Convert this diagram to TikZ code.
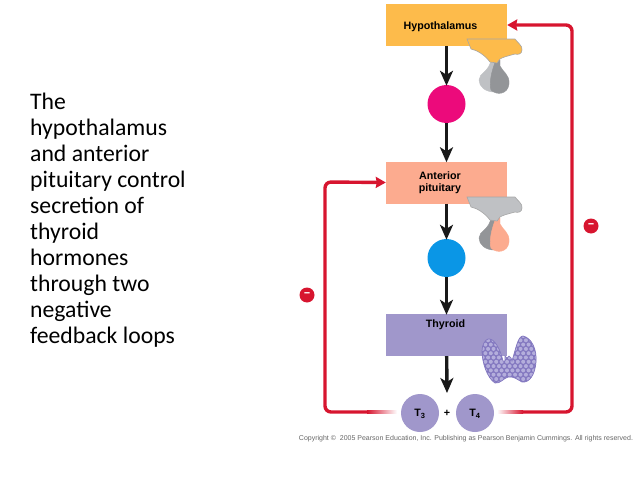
\documentclass[tikz,border=0pt]{standalone}
\usepackage{fontspec}
\setmainfont{Carlito}
\newfontfamily\labelfont{Liberation Sans}
\usetikzlibrary{arrows.meta}
\definecolor{hypocol}{HTML}{FDBB4B}
\definecolor{antcol}{HTML}{FCAB8F}
\definecolor{thycol}{HTML}{A097CB}
\definecolor{pinkcol}{HTML}{EC0A7B}
\definecolor{bluecol}{HTML}{0A96E6}
\definecolor{redcol}{HTML}{D7152F}
\definecolor{lightgland}{HTML}{BFC1C4}
\definecolor{darkgland}{HTML}{939598}
\definecolor{cellline}{HTML}{8378C0}
\definecolor{cellfill}{HTML}{B4AEDC}
\newcommand{\gland}[4]{%
    \begin{scope}[yshift=-#1pt]
        \draw[#2, fill=#2] (493,60) -- (497,60) .. controls (497,72) and (492,80) .. (494,92) .. controls (486,92) and (479,87) .. (479,80) .. controls (479,73) and (489,72) .. (491,60);
        \draw[#3, fill=#3] (496,60) -- (500,60) -- (500,66) .. controls (503,72) and (510,75) .. (509,84) .. controls (508,94) and (497,96) .. (491,90) .. controls (489,84) and (491,72) .. (496,60);
        \draw[line width=.6pt, draw=gray!70, fill=#4] (467,39) -- (515,39) .. controls (517,42) and (523,46) .. (522,50) .. controls (522,54) and (518,55) .. (515,54) .. controls (508,56) and (503,57) .. (500,59) -- (497,63) -- (490,62) .. controls (484,54) and (476,50) .. (471,49) -- cycle;
    \end{scope}
}
\begin{document}
\begin{tikzpicture}[x=1pt, y=-1pt, node distance=78pt,
    boxnode/.style = {minimum width=121pt, minimum height=42pt, inner sep=0pt},
    circ/.style = {circle, minimum size=38pt, inner sep=0pt},
    boxtext/.style = {font=\labelfont\bfseries\fontsize{10.7}{12.5}\selectfont, align=center, inner sep=0pt},
    arr/.style = {line width=3.4pt, black!90, -{Stealth[length=15pt,width=13pt,inset=4pt]}, shorten >=-1pt},
    redline/.style = {line width=3.4pt, redcol, rounded corners=6pt},
    redtip/.style = {-{Stealth[length=10pt,width=11pt,inset=1pt]}},
    minus/.style = {circle, fill=redcol, minimum size=15pt, inner sep=0pt, text=white, font=\bfseries\fontsize{15}{15}\selectfont}]

    \useasboundingbox (0,0) rectangle (638,479);

    \node[align=left, inner sep=0pt, anchor=north west, font=\fontsize{23.7}{26}\selectfont] (intro) at (30,92.5) {The\\hypothalamus\\and anterior\\pituitary control\\secretion of\\thyroid\\hormones\\through two\\negative\\feedback loops};

    \node[boxnode, fill=hypocol] (hypo) at (446.5,25) {};
    \node[circ, fill=pinkcol] (pink) [below of=hypo, node distance=79pt] {};
    \node[boxnode, fill=antcol] (ant) [below of=pink, node distance=78.5pt] {};
    \node[circ, fill=bluecol] (blue) [below of=ant, node distance=75.5pt] {};
    \node[boxnode, fill=thycol] (thy) [below of=blue, node distance=77pt] {};
    \node[circ, fill=thycol] (t3) at (420,413) {};
    \node[circ, fill=thycol] (t4) at (475,413) {};
    \coordinate (tt) at (447,392);

    \node[boxtext] (hypotext) at (440.5,27) {Hypothalamus};
    \node[boxtext] (anttext) at (440,182.5) {Anterior\\pituitary};
    \node[boxtext] (thytext) at (445.5,325) {Thyroid};
    \node[boxtext] (t3text) at (420,414) {T\textsubscript{3}};
    \node[boxtext] (t4text) at (475,414) {T\textsubscript{4}};
    \node[boxtext] (plus) at (447,413) {+};

    \draw[arr] (hypo) -- (pink);
    \draw[arr] (pink) -- (ant);
    \draw[arr] (ant) -- (blue);
    \draw[arr] (blue) -- (thy);
    \draw[arr] (thy) -- (tt);

    % feedback loops
    \coordinate (fbleft) at (367,412);
    \coordinate (fbright) at (523,412);
    \draw[redline, redtip] (fbright) -- (572,412) -- (572,25) -- (hypo.east);
    \draw[redline, redtip] (fbleft) -- (325,412) -- (325,182) -- (ant.west);
    \shade[left color=white, right color=redcol] (497,410.3) rectangle (523,413.7);
    \shade[left color=redcol, right color=white] (367,410.3) rectangle (397,413.7);
    \node[minus] (minusleft) at (307,295) {--};
    \node[minus] (minusright) at (591,226) {--};

    \gland{0}{lightgland}{darkgland}{hypocol}
    \gland{158}{darkgland}{antcol}{lightgland}

    % thyroid gland
    \def\thyroidpath{(488,339) .. controls (494,338) and (500,348) .. (503,361) -- (505,361) -- (505,356) -- (507,358) -- (509,356) -- (511,358) -- (512,361) .. controls (516,348) and (518,336) .. (523,336) .. controls (532,338) and (537,350) .. (536,362) .. controls (535,374) and (530,383) .. (522,382) .. controls (518,380) and (514,376) .. (508,377) .. controls (504,378) and (500,384) .. (495,383) .. controls (487,378) and (482,362) .. (482,351) .. controls (482,345) and (485,340) .. (488,339) -- cycle}
    \fill[cellline] \thyroidpath;
    \begin{scope}
        \clip \thyroidpath;
        \foreach \i in {0,...,10}
            \foreach \j in {0,...,11}
                \fill[cellfill] ({480+5.4*\i+2.7*mod(\j,2)},{336+4.3*\j}) circle (2pt);
    \end{scope}
    \draw[draw=cellline, line width=.7pt] \thyroidpath;

    \node[inner sep=0pt, text=black!60, font=\labelfont\fontsize{7}{8}\selectfont] (copy) at (466,438.5) {Copyright \textcopyright\ \ 2005 Pearson Education, Inc. Publishing as Pearson Benjamin Cummings. All rights reserved.};
\end{tikzpicture}
\end{document}
